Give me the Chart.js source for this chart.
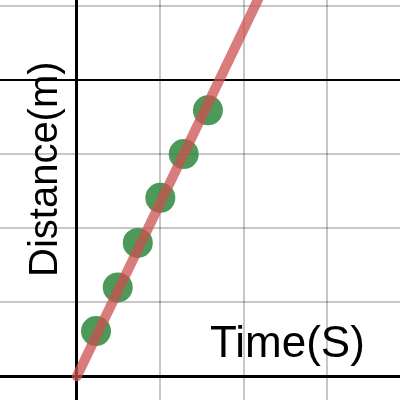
<!DOCTYPE html>
<html>
<head>
<meta charset="utf-8">
<script src="https://cdn.jsdelivr.net/npm/chart.js@4"></script>
<style>body{margin:0;background:#fff}</style>
</head>
<body>
<canvas id="c" width="400" height="400"></canvas>
<script>
'use strict';

const timeS = [0.23, 0.49, 0.73, 1.0, 1.28, 1.57];
const distanceM = [0.61, 1.2, 1.8, 2.41, 3.0, 3.59];
const fitX = [0, 2.5];
const fitY = [0, 5.86];
const xGrid = [0, 1, 2, 3];
const yGrid = [0, 1, 2, 3, 4, 5];

const labels = {
  id: 'labels',
  afterDraw(chart) {
    const c = chart.ctx;
    c.save();
    c.fillStyle = '#000';
    c.font = '44px "Liberation Sans", Arial, sans-serif';
    c.textBaseline = 'alphabetic';
    c.fillText('Time(S)', 210, 357);
    c.font = '40px "Liberation Sans", Arial, sans-serif';
    c.translate(57, 277);
    c.rotate(-Math.PI / 2);
    c.fillText('Distance(m)', 0, 0);
    c.restore();
  }
};

function gridColor(ctx) {
  const v = ctx.tick.value;
  return v === 0 || (ctx.scale.axis === 'y' && v === 4) ? '#000' : 'rgba(0,0,0,0.22)';
}
function gridWidth(ctx) {
  return ctx.tick.value === 0 ? 3 : 2;
}

new Chart(document.querySelector('#c'), {
  type: 'scatter',
  data: {
    datasets: [
      {
        type: 'line',
        data: fitX.map((x, i) => ({ x: x, y: fitY[i] })),
        borderColor: 'rgba(204,80,80,0.75)',
        borderWidth: 10,
        pointRadius: 0,
        borderCapStyle: 'round',
        order: 0
      },
      {
        data: timeS.map((x, i) => ({ x: x, y: distanceM[i] })),
        backgroundColor: 'rgba(45,135,60,0.85)',
        borderWidth: 0,
        pointRadius: 15,
        order: 1
      }
    ]
  },
  options: {
    responsive: false,
    animation: false,
    layout: { padding: 0, autoPadding: false },
    plugins: { legend: { display: false }, tooltip: { enabled: false } },
    scales: {
      x: {
        type: 'linear', min: -0.92, max: 3.87,
        afterBuildTicks: (s) => { s.ticks = xGrid.map((v) => ({ value: v })); },
        ticks: { display: false },
        border: { display: false },
        grid: { drawTicks: false, color: gridColor, lineWidth: gridWidth }
      },
      y: {
        type: 'linear', min: -0.32, max: 5.08,
        afterBuildTicks: (s) => { s.ticks = yGrid.map((v) => ({ value: v })); },
        ticks: { display: false },
        border: { display: false },
        grid: { drawTicks: false, color: gridColor, lineWidth: gridWidth }
      }
    }
  },
  plugins: [labels]
});
</script>
</body>
</html>
